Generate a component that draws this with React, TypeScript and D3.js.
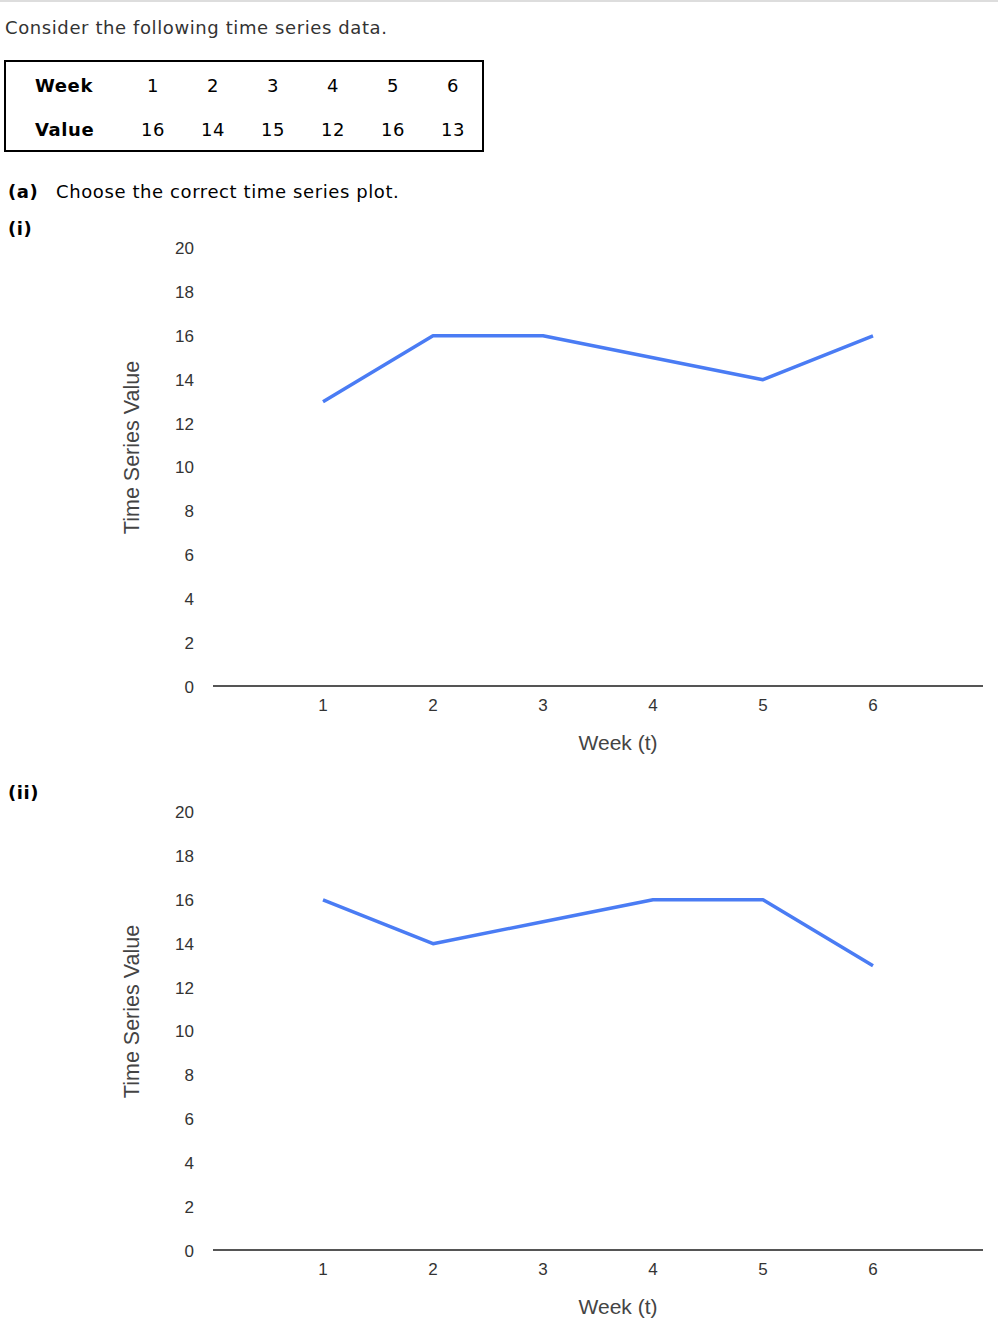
import * as d3 from 'd3';
import React from 'react';

const weeks = [1, 2, 3, 4, 5, 6];
const tableValues = [16, 14, 15, 12, 16, 13];
const seriesI = [13, 16, 16, 15, 14, 16];
const seriesII = [16, 14, 15, 16, 16, 13];
const yTicks = [0, 2, 4, 6, 8, 10, 12, 14, 16, 18, 20];

const W = 998;
const H = 1332;
const textFont = '"DejaVu Sans", Verdana, sans-serif';
const tickFont = '"Liberation Sans", Arial, sans-serif';
const fs = 18;
const ls = 0.6;

function Plot({ values, top }: { values: number[]; top: number }) {
  // top = pixel of the "20" tick
  const x = d3.scaleLinear().domain([0, 7]).range([213, 983]);
  const y = d3.scaleLinear().domain([0, 20]).range([top + 439, top]);
  const line = d3
    .line<number>()
    .x((_, i) => x(weeks[i]))
    .y((d) => y(d));
  const base = y(0);
  return (
    <g>
      {yTicks.map((t) => (
        <text
          key={t}
          x={194}
          y={y(t)}
          dy="0.35em"
          textAnchor="end"
          fontFamily={tickFont}
          fontSize={17}
          fill="#333"
        >
          {t}
        </text>
      ))}
      <line x1={x(0)} x2={x(7)} y1={base - 1} y2={base - 1} stroke="#555" strokeWidth={2} />
      {weeks.map((w) => (
        <text
          key={w}
          x={x(w)}
          y={base + 18}
          dy="0.35em"
          textAnchor="middle"
          fontFamily={tickFont}
          fontSize={17}
          fill="#333"
        >
          {w}
        </text>
      ))}
      <path d={line(values) || ''} fill="none" stroke="#4a7cf4" strokeWidth={3.5} strokeLinejoin="round" />
      <text
        x={618}
        y={base + 56}
        dy="0.35em"
        textAnchor="middle"
        fontFamily={tickFont}
        fontSize={21}
        fill="#444"
      >
        Week (t)
      </text>
      <text
        transform={`translate(131,${y(10) - 20}) rotate(-90)`}
        dy="0.35em"
        textAnchor="middle"
        fontFamily={tickFont}
        fontSize={21.5}
        fill="#444"
      >
        Time Series Value
      </text>
    </g>
  );
}

export default function App() {
  const colX = d3.scaleLinear().domain([1, 6]).range([153, 453]);
  const t = (yy: number) => yy + 1;
  return (
    <svg
      width={W}
      height={H}
      style={{ position: 'absolute', left: 0, top: 0, background: '#fff' }}
    >
      <line x1={0} x2={W} y1={1} y2={1} stroke="#ddd" strokeWidth={2} />
      <text x={5} y={t(27)} dy="0.35em" fontFamily={textFont} fontSize={fs} letterSpacing={ls} fill="#333">
        Consider the following time series data.
      </text>
      <rect x={5} y={61} width={478} height={90} fill="none" stroke="#000" strokeWidth={2} />
      <text x={35} y={t(85)} dy="0.35em" fontFamily={textFont} fontSize={fs} letterSpacing={ls} fontWeight="bold" fill="#000">
        Week
      </text>
      <text x={35} y={t(129)} dy="0.35em" fontFamily={textFont} fontSize={fs} letterSpacing={ls} fontWeight="bold" fill="#000">
        Value
      </text>
      {weeks.map((w, i) => (
        <g key={w}>
          <text x={colX(w)} y={t(85)} dy="0.35em" textAnchor="middle" fontFamily={textFont} fontSize={fs} letterSpacing={ls} fill="#000">
            {w}
          </text>
          <text x={colX(w)} y={t(129)} dy="0.35em" textAnchor="middle" fontFamily={textFont} fontSize={fs} letterSpacing={ls} fill="#000">
            {tableValues[i]}
          </text>
        </g>
      ))}
      <text x={8} y={t(191)} dy="0.35em" fontFamily={textFont} fontSize={fs} letterSpacing={ls} fill="#000">
        <tspan fontWeight="bold">(a)</tspan>
        <tspan x={56}>Choose the correct time series plot.</tspan>
      </text>
      <text x={8} y={t(228)} dy="0.35em" fontFamily={textFont} fontSize={fs} letterSpacing={ls} fontWeight="bold" fill="#000">
        (i)
      </text>
      <Plot values={seriesI} top={248} />
      <text x={8} y={t(792)} dy="0.35em" fontFamily={textFont} fontSize={fs} letterSpacing={ls} fontWeight="bold" fill="#000">
        (ii)
      </text>
      <Plot values={seriesII} top={812} />
    </svg>
  );
}
